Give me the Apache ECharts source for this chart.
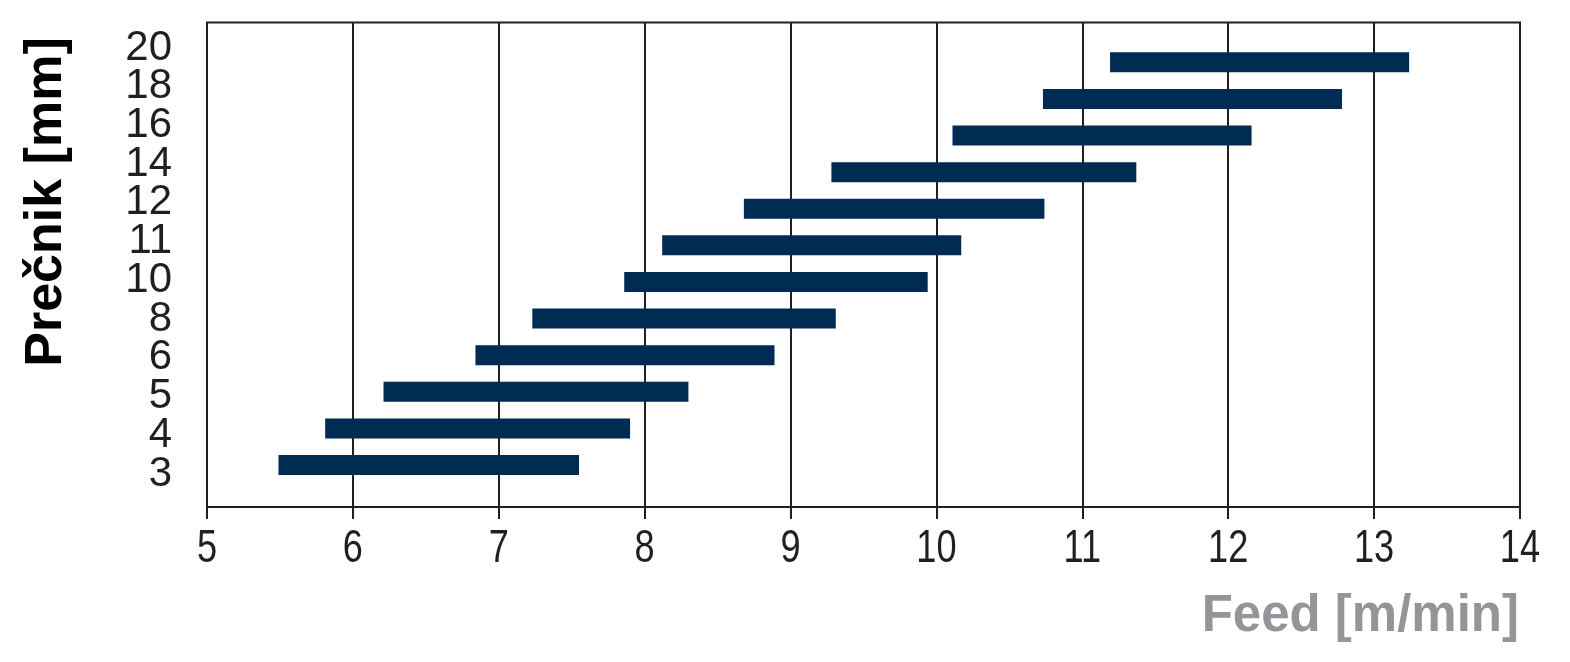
<!DOCTYPE html>
<html>
<head>
<meta charset="utf-8">
<script src="https://cdn.jsdelivr.net/npm/echarts@6/dist/echarts.min.js"></script>
<style>
html,body{margin:0;padding:0;background:#fff;}
#chart{width:1570px;height:662px;}
</style>
</head>
<body>
<div id="chart"></div>
<script>
// Diameter categories (bottom to top)
var categories = ['3', '4', '5', '6', '8', '10', '11', '12', '14', '16', '18', '20'];
// Feed range start [m/min]
var feedStart = [5.49, 5.81, 6.21, 6.84, 7.23, 7.86, 8.12, 8.68, 9.28, 10.11, 10.73, 11.19];
// Feed range end [m/min]
var feedEnd = [7.55, 7.90, 8.30, 8.89, 9.31, 9.94, 10.17, 10.74, 11.37, 12.16, 12.78, 13.24];
var xTicks = [5, 6, 7, 8, 9, 10, 11, 12, 13, 14];
var xTitle = 'Feed [m/min]';
var yTitle = 'Prečnik [mm]';

var rangeLen = feedEnd.map(function (e, i) { return +(e - feedStart[i]).toFixed(4); });

var ink = '#231f20';
var chart = echarts.init(document.getElementById('chart'), null, {renderer: 'canvas'});
var L = 207, R = 50, BOTTOM_Y = 507;
var option = {
  animation: false,
  backgroundColor: '#fff',
  grid: [
    {left: L, right: R, top: 22.5, bottom: 662 - BOTTOM_Y, show: true, borderColor: ink, borderWidth: 2, backgroundColor: 'transparent', containLabel: false},
    {left: L, right: R, top: 28.6, height: 464.8, containLabel: false},
    {left: L, right: R, top: 44, height: 439.3, containLabel: false}
  ],
  xAxis: [
    {
      gridIndex: 0, type: 'value', min: xTicks[0], max: xTicks[xTicks.length - 1], interval: 1,
      axisLine: {show: true, lineStyle: {color: ink, width: 2}},
      axisTick: {show: true, length: 12, lineStyle: {color: ink, width: 2}},
      splitLine: {show: true, lineStyle: {color: ink, width: 2}},
      axisLabel: {show: false}
    },
    {gridIndex: 1, type: 'value', min: 5, max: 14, show: false},
    {gridIndex: 2, type: 'value', min: 5, max: 14, show: false}
  ],
  yAxis: [
    {gridIndex: 0, type: 'value', show: false, splitLine: {show: false}},
    {
      gridIndex: 1, type: 'category', data: categories,
      axisLine: {show: false}, axisTick: {show: false}, splitLine: {show: false},
      axisLabel: {show: true, interval: 0, margin: 35, color: ink, fontSize: 42, fontFamily: '"Liberation Sans", Arial, sans-serif'}
    },
    {gridIndex: 2, type: 'category', data: categories, show: false}
  ],
  series: [
    {
      type: 'bar', xAxisIndex: 2, yAxisIndex: 2, stack: 'range', barWidth: 20,
      data: feedStart, itemStyle: {color: 'rgba(0,0,0,0)'}, silent: true
    },
    {
      type: 'bar', xAxisIndex: 2, yAxisIndex: 2, stack: 'range', barWidth: 20,
      data: rangeLen, itemStyle: {color: '#002b53'}
    }
  ]
};
chart.setOption(option);

// Condensed x tick labels positioned through the x axis scale
var graphics = xTicks.map(function (v) {
  var px = chart.convertToPixel({xAxisIndex: 0}, v);
  return {
    type: 'text', x: px, y: BOTTOM_Y + 19, scaleX: 0.77,
    style: {text: String(v), fill: ink, font: '47px "Liberation Sans", Arial, sans-serif', textAlign: 'center', textVerticalAlign: 'top'}
  };
});
graphics.push({
  type: 'text', x: 1519, y: 617,
  style: {text: xTitle, fill: '#939598', font: 'bold 51px "Liberation Sans", Arial, sans-serif', textAlign: 'right', textVerticalAlign: 'middle'}
});
graphics.push({
  type: 'text', x: 47, y: 202, rotation: Math.PI / 2,
  style: {text: yTitle, fill: '#000', font: 'bold 52px "Liberation Sans", Arial, sans-serif', textAlign: 'center', textVerticalAlign: 'middle'}
});
chart.setOption({graphic: graphics});
</script>
</body>
</html>
